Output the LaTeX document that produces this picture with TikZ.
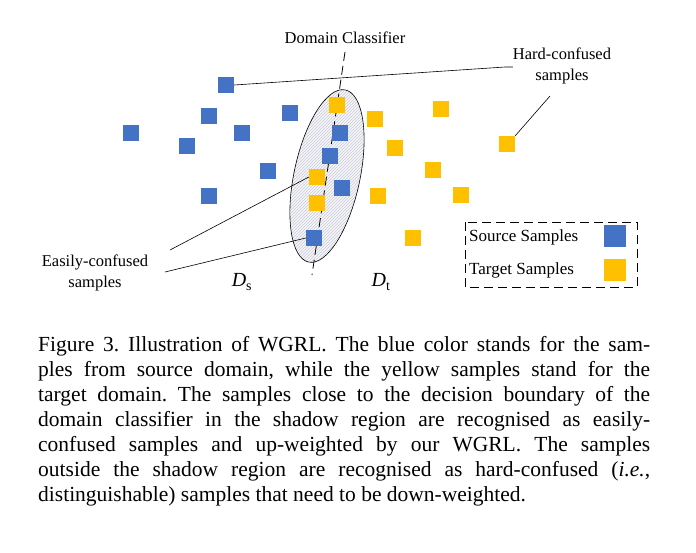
\documentclass[tikz,border=0pt]{standalone}
\usepackage{fontspec}
\setmainfont{Liberation Serif}
\usetikzlibrary{patterns}
\definecolor{bl}{HTML}{4472C4}
\definecolor{yl}{HTML}{FFC000}
\frenchspacing
\begin{document}
\begin{tikzpicture}[x=1pt,y=-1pt,
  sq/.style={minimum size=16pt,inner sep=0pt,draw=none},
  b/.style={sq,fill=bl},
  yy/.style={sq,fill=yl},
  lbl/.style={font=\fontsize{16.5}{21}\selectfont,align=center,inner sep=0pt},
  captxt/.style={anchor=west,inner sep=0pt,font=\fontsize{21.5}{24}\selectfont}]
\useasboundingbox (0,0) rectangle (696,552);
% ellipse
\begin{scope}[shift={(327,176)},rotate=78]
\fill[blue!4] (0,0) ellipse (88 and 33);
\fill[pattern=north east lines,pattern color=gray!40] (0,0) ellipse (88 and 33);
\draw[semithick] (0,0) ellipse (88 and 33);
\end{scope}
\coordinate (dc1) at (345,52); \coordinate (dc2) at (312,275);
\draw[thick,dash pattern=on 9pt off 5pt] (dc1) -- (dc2);
% blue
\foreach \n/\x/\y in {b1/226/85,b2/209/116,b3/290/113,b4/131/133,b5/242/133,b6/187/146,b7/340/133,b8/330/156,b9/268/171,b10/342/188,b11/209/196,b12/314/238}
  \node[b] (\n) at (\x,\y) {};
\foreach \n/\x/\y in {y1/337/105,y2/375/119,y3/441/109,y4/395/148,y5/507/144,y6/433/170,y7/317/177,y8/378/196,y9/461/195,y10/317/203,y11/413/238}
  \node[yy] (\n) at (\x,\y) {};
\node[lbl] (dc) at (345,38) {Domain Classifier};
\node[lbl] (hc) at (562,66) {Hard-confused\\samples};
\node[lbl] (ec) at (95,273) {Easily-confused\\samples};
\coordinate (h1) at (505,67); \coordinate (h2) at (550,96);
\coordinate (e1) at (170,250); \coordinate (e2) at (165,272);
\draw[semithick] (b1.east) -- (h1) -- (hc.west|-h1);
\draw[semithick] (h2) -- (y5.north east);
\draw[semithick] (e1) -- (y7.west);
\draw[semithick] (e2) -- (b12.west);
\node[font=\fontsize{20}{22}\selectfont\itshape] (ds) at (242,282) {D\textsubscript{\upshape s}};
\node[font=\fontsize{20}{22}\selectfont\itshape] (dt) at (381,282) {D\textsubscript{\upshape t}};
% legend
\draw[thick,dash pattern=on 9pt off 5pt] (465,222) rectangle (637,287);
\node[lbl,anchor=west,font=\fontsize{17}{19}\selectfont] (ls) at (469,237) {Source Samples};
\node[lbl,anchor=west,font=\fontsize{17}{19}\selectfont] (lt) at (469,270) {Target Samples};
\node[b,minimum size=22pt] (lbs) at (615,236) {};
\node[yy,minimum size=22pt] (lys) at (615,270) {};
% caption
\node[captxt] (c1) at (38,346) {\makebox[612pt][s]{Figure 3. Illustration of WGRL. The blue color stands for the sam-}};
\node[captxt] (c2) at (38,371) {\makebox[612pt][s]{ples from source domain, while the yellow samples stand for the}};
\node[captxt] (c3) at (38,396) {\makebox[612pt][s]{target domain. The samples close to the decision boundary of the}};
\node[captxt] (c4) at (38,421) {\makebox[612pt][s]{domain classifier in the shadow region are recognised as easily-}};
\node[captxt] (c5) at (38,446) {\makebox[612pt][s]{confused samples and up-weighted by our WGRL. The samples}};
\node[captxt] (c6) at (38,471) {\makebox[612pt][s]{outside the shadow region are recognised as hard-confused (\textit{i.e.},}};
\node[captxt] (c7) at (38,496) {distinguishable) samples that need to be down-weighted.};
\end{tikzpicture}
\end{document}
